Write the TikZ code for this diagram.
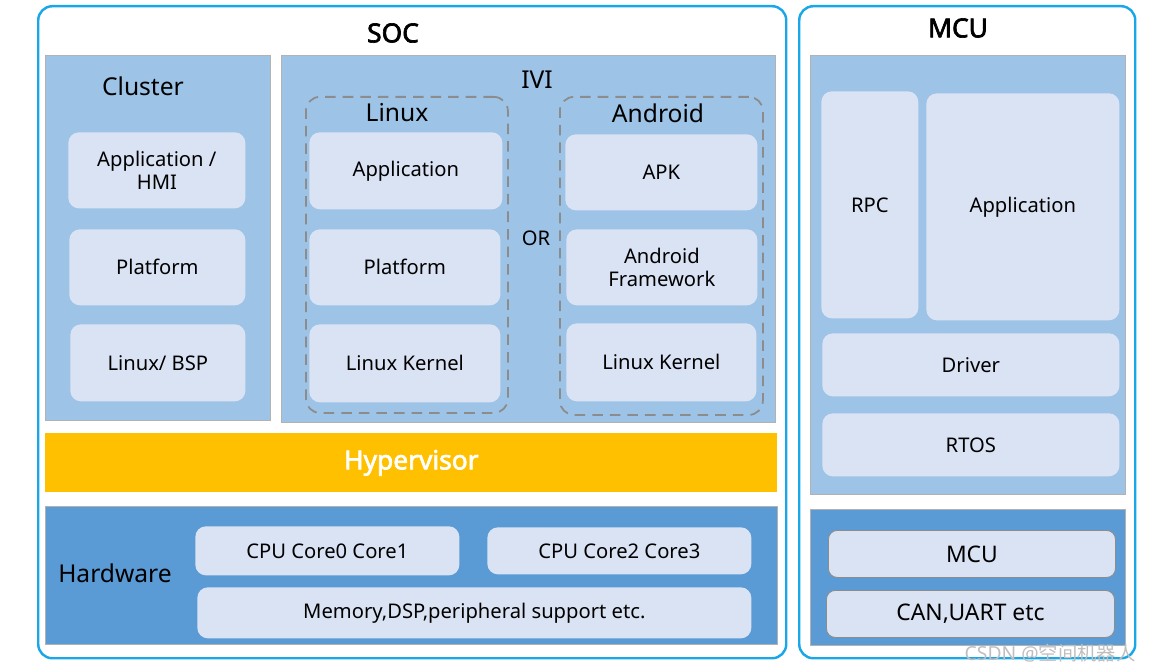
\documentclass[tikz,border=0pt]{standalone}
\usepackage{fontspec}
\setmainfont{Noto Sans}
\newfontfamily\boldf{Noto Sans}[UprightFeatures={FakeBold=2.5}]
\newfontfamily\cjk{Noto Sans CJK SC}
\definecolor{frame}{HTML}{1AA7E8}
\definecolor{panel}{HTML}{9DC3E6}
\definecolor{hwpanel}{HTML}{5B9BD5}
\definecolor{cell}{HTML}{DAE3F3}
\definecolor{hyper}{HTML}{FFC000}
\newcommand\blk[7][]{\node[#1, anchor=north west, minimum width={(#5-#3)*0.02cm}, minimum height={(#6-#4)*0.02cm}] (#2) at (#3,#4) {#7};}
\begin{document}
\begin{tikzpicture}[x=0.02cm,y=-0.02cm,
  every node/.style={inner sep=0pt, align=center, font=\fontsize{11.5}{13.5}\selectfont},
  outer/.style={draw=frame, line width=1.4pt, rounded corners=8pt},
  pnl/.style={fill=panel, draw=black!30, line width=0.6pt},
  hw/.style={fill=hwpanel, draw=black!30, line width=0.6pt},
  cel/.style={fill=cell, rounded corners=6pt},
  hcel/.style={fill=cell, rounded corners=5pt, draw=black!45, line width=0.5pt},
  osbox/.style={draw=black!45, line width=1pt, dash pattern=on 6pt off 4pt, rounded corners=8pt},
  ttl/.style={font=\boldf\fontsize{15}{17}\selectfont},
  sub/.style={font=\fontsize{14}{16}\selectfont}]
\useasboundingbox (0,0) rectangle (1149,672);
% outer frames
\blk[outer]{soc}{37}{5}{785}{657}{}
\blk[outer]{mcu}{798}{5}{1134}{657}{}
\node[ttl] (soct) at (393,33) {SOC};
\node[ttl] (mcut) at (958,28) {MCU};
% cluster
\blk[pnl]{cl}{45}{55}{270}{420}{}
\node[sub] (clt) at (143,86) {Cluster};
\blk[cel]{cla}{68}{132}{245}{208}{Application /\\HMI}
\blk[cel]{clp}{69}{229}{245}{305}{Platform}
\blk[cel]{clb}{70}{324}{245}{401}{Linux/ BSP}
% IVI
\blk[pnl]{ivi}{281}{55}{775}{422}{}
\node[sub] (ivit) at (537,80) {IVI};
\blk[osbox]{lx}{305}{96}{507}{412}{}
\node[sub] (lxt) at (397,113) {Linux};
\blk[cel]{lxa}{309}{132}{502}{209}{Application}
\blk[cel]{lxp}{309}{229}{500}{305}{Platform}
\blk[cel]{lxk}{309}{324}{500}{402}{Linux Kernel}
\node (or) at (536,238) {OR};
\blk[osbox]{an}{559}{96}{762}{414}{}
\node[sub] (ant) at (658,113) {Android};
\blk[cel]{ana}{565}{134}{757}{210}{APK}
\blk[cel]{anf}{566}{229}{757}{305}{Android\\Framework}
\blk[cel]{ank}{566}{323}{756}{401}{Linux Kernel}
% hypervisor
\blk[fill=hyper, text=white, font=\boldf\fontsize{15}{17}\selectfont]{hyp}{45}{433}{777}{492}{Hypervisor}
% hardware
\blk[hw]{hwp}{45}{506}{777}{644}{}
\node[font=\fontsize{14}{16}\selectfont] (hwt) at (115,573) {Hardware};
\blk[cel]{c01}{195}{526}{459}{575}{CPU Core0 Core1}
\blk[cel]{c23}{487}{527}{751}{574}{CPU Core2 Core3}
\blk[cel]{mem}{197}{587}{751}{638}{Memory,DSP,peripheral support etc.}
% MCU side
\blk[pnl]{mp}{810}{55}{1125}{494}{}
\blk[cel]{rpc}{821}{91}{918}{318}{RPC}
\blk[cel]{mapp}{926}{93}{1119}{320}{Application}
\blk[cel]{drv}{822}{333}{1119}{396}{Driver}
\blk[cel]{rtos}{822}{413}{1119}{476}{RTOS}
\blk[hw]{mhw}{810}{509}{1125}{645}{}
\blk[hcel, font=\fontsize{13}{15}\selectfont]{mbox}{828}{530}{1115}{577}{MCU}
\blk[hcel, font=\fontsize{13}{15}\selectfont]{can}{826}{590}{1114}{637}{CAN,UART etc}
\node[text=black!25, font=\fontsize{11}{13}\selectfont] (wm) at (1050,653) {CSDN @{\cjk 空间机器人}};
\end{tikzpicture}
\end{document}
